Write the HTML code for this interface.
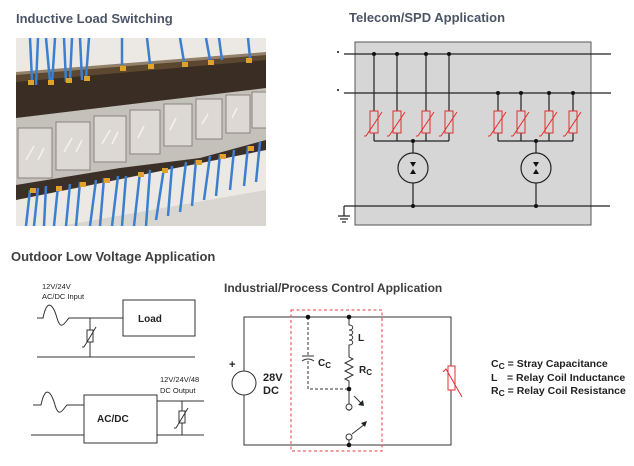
<!DOCTYPE html>
<html><head><meta charset="utf-8"><style>
html,body{margin:0;padding:0;background:#fff;}
svg{display:block;font-family:"Liberation Sans",Arial,sans-serif;}
</style></head><body>
<svg width="634" height="466" viewBox="0 0 634 466" xmlns="http://www.w3.org/2000/svg">
<!-- Titles -->
<text x="16" y="23" font-size="13" font-weight="bold" fill="#4b5566">Inductive Load Switching</text>
<text x="349" y="22" font-size="13" font-weight="bold" fill="#4b5566">Telecom/SPD Application</text>
<text x="11" y="261" font-size="13" font-weight="bold" fill="#3f3f3f">Outdoor Low Voltage Application</text>
<text x="224" y="292" font-size="12" font-weight="bold" fill="#3f3f3f">Industrial/Process Control Application</text>

<!-- Photo -->
<defs><clipPath id="ph"><rect x="16" y="38" width="250" height="188"/></clipPath></defs>
<g clip-path="url(#ph)">
<rect x="16" y="38" width="250" height="188" fill="#ece8e3"/>
<polygon points="16,75 266,55 266,92 16,122" fill="#3a2e24"/>
<polygon points="16,72 266,52 266,60 16,82" fill="#6b5436" opacity="0.7"/>
<polygon points="16,118 266,88 266,145 200,160 120,170 16,190" fill="#c4c0ba"/>
<g fill="#dcd9d4" stroke="#8a847c" stroke-width="1">
<rect x="18" y="128" width="34" height="50"/><rect x="56" y="122" width="34" height="48"/><rect x="94" y="116" width="32" height="46"/><rect x="130" y="110" width="30" height="44"/><rect x="164" y="104" width="28" height="42"/><rect x="196" y="99" width="26" height="40"/><rect x="226" y="95" width="24" height="38"/><rect x="252" y="92" width="20" height="36"/>
</g>
<g stroke="#f4f2ee" stroke-width="1.5" fill="none">
<path d="M26 160l8 -14 M38 160l6 -12 M64 152l8 -14 M76 152l6 -12 M102 144l8 -14 M112 144l6 -12 M138 138l6 -12 M170 130l6 -12 M202 124l6 -10 M232 118l5 -10"/>
</g>
<polygon points="16,185 120,168 200,158 266,140 266,150 16,200" fill="#3a3028"/>
<polygon points="60,226 266,190 266,226" fill="#d9d6d2"/>
<g stroke="#3b7fd0" stroke-width="2.5" fill="none">
<path d="M30 38 L32 80 M38 38 L36 85 M46 38 L50 82 M55 38 L52 84 M64 38 L66 82 M72 38 L70 80 M80 38 L82 80 M89 38 L86 78 M122 38 L122 65 M147 38 L150 64 M180 38 L184 62 M206 38 L210 60 M219 38 L222 60 M248 38 L250 58"/>
<path d="M26 226 L30 190 M34 226 L38 188 M44 226 L46 186 M54 226 L58 186 M66 226 L70 184 M76 226 L80 182 M90 226 L96 180 M100 226 L104 178 M112 226 L118 176 M122 226 L126 176 M134 226 L140 172 M146 226 L150 170 M156 220 L164 168 M168 216 L172 166 M180 212 L186 162 M192 206 L196 160 M204 200 L210 156 M216 196 L220 154 M230 190 L234 150 M244 186 L248 146 M256 182 L260 142"/>
</g>
<g fill="#e0a22a">
<rect x="28" y="80" width="6" height="5"/><rect x="48" y="80" width="6" height="5"/><rect x="66" y="78" width="6" height="5"/><rect x="84" y="76" width="6" height="5"/><rect x="120" y="66" width="6" height="5"/><rect x="148" y="64" width="6" height="5"/><rect x="182" y="62" width="6" height="5"/><rect x="208" y="60" width="6" height="5"/><rect x="246" y="58" width="6" height="5"/>
<rect x="30" y="188" width="6" height="5"/><rect x="56" y="186" width="6" height="5"/><rect x="80" y="182" width="6" height="5"/><rect x="104" y="178" width="6" height="5"/><rect x="138" y="172" width="6" height="5"/><rect x="162" y="168" width="6" height="5"/><rect x="196" y="160" width="6" height="5"/><rect x="220" y="154" width="6" height="5"/><rect x="248" y="146" width="6" height="5"/>
</g>
</g>

<!-- Telecom -->
<rect x="355" y="42" width="236" height="183" fill="#d6d6d6" stroke="#555" stroke-width="1"/>
<g stroke="#222" stroke-width="1.2" fill="none">
<line x1="344" y1="54" x2="611" y2="54"/>
<line x1="344" y1="93" x2="611" y2="93"/>
<line x1="344" y1="206" x2="610" y2="206"/>
<line x1="344" y1="206" x2="344" y2="216"/>
<line x1="338" y1="216" x2="350" y2="216"/><line x1="340" y1="219" x2="348" y2="219"/><line x1="342" y1="222" x2="346" y2="222"/>
<path d="M374 54V141 M397 54V141 M426 54V141 M449 54V141 M374 141H449 M413 141V153 M413 183V206"/>
<path d="M498 93V141 M521 93V141 M549 93V141 M573 93V141 M498 141H573 M536 141V153 M536 183V206"/>
<circle cx="413" cy="168" r="15" fill="#d6d6d6"/>
<circle cx="536" cy="168" r="15" fill="#d6d6d6"/>
</g>
<g fill="#111">
<circle cx="374" cy="54" r="2"/><circle cx="397" cy="54" r="2"/><circle cx="426" cy="54" r="2"/><circle cx="449" cy="54" r="2"/>
<circle cx="498" cy="93" r="2"/><circle cx="521" cy="93" r="2"/><circle cx="549" cy="93" r="2"/><circle cx="573" cy="93" r="2"/>
<circle cx="413" cy="141" r="2"/><circle cx="536" cy="141" r="2"/><circle cx="413" cy="206" r="2"/><circle cx="536" cy="206" r="2"/>
<polygon points="410,162 416,162 413,167"/><polygon points="410,174 416,174 413,169"/>
<polygon points="533,162 539,162 536,167"/><polygon points="533,174 539,174 536,169"/>
<circle cx="338" cy="52" r="1"/><circle cx="338" cy="90" r="1"/>
</g>
<g stroke="#e03030" stroke-width="1" fill="#d6d6d6">
<rect x="370" y="111" width="8" height="22"/><rect x="393" y="111" width="8" height="22"/><rect x="422" y="111" width="8" height="22"/><rect x="445" y="111" width="8" height="22"/>
<rect x="494" y="111" width="8" height="22"/><rect x="517" y="111" width="8" height="22"/><rect x="545" y="111" width="8" height="22"/><rect x="569" y="111" width="8" height="22"/>
</g>
<g stroke="#e03030" stroke-width="1" fill="none">
<path d="M366 136L382 112M366 136h-2 M389 136L405 112M389 136h-2 M418 136L434 112M418 136h-2 M441 136L457 112M441 136h-2"/>
<path d="M490 136L506 112M490 136h-2 M513 136L529 112M513 136h-2 M541 136L557 112M541 136h-2 M565 136L581 112M565 136h-2"/>
</g>

<!-- Outdoor -->
<text x="42" y="289" font-size="7.5" fill="#222">12V/24V</text>
<text x="42" y="299" font-size="7.5" fill="#222">AC/DC Input</text>
<g stroke="#333" stroke-width="1" fill="none">
<path d="M37 318h6 c4 -20 10 -14 14 0 s8 4 12 0 H123"/>
<rect x="123" y="300" width="72" height="36"/>
<line x1="90" y1="318" x2="90" y2="357"/>
<rect x="87" y="330" width="6" height="12" fill="#fff"/>
<path d="M84 347L96 327M84 347h-2"/>
<line x1="37" y1="357" x2="195" y2="357"/>
<path d="M33 405h8 c4 -20 10 -14 14 0 s8 4 12 0 H84"/>
<rect x="84" y="395" width="73" height="48"/>
<line x1="157" y1="401" x2="204" y2="401"/>
<line x1="31" y1="435" x2="84" y2="435"/>
<line x1="157" y1="435" x2="204" y2="435"/>
<line x1="182" y1="401" x2="182" y2="435"/>
<rect x="179" y="411" width="6" height="12" fill="#fff"/>
<path d="M176 428L188 408M176 428h-2"/>
</g>
<text x="138" y="322" font-size="10" font-weight="bold" fill="#222">Load</text>
<text x="97" y="422" font-size="10" font-weight="bold" fill="#222">AC/DC</text>
<text x="160" y="382" font-size="7.5" fill="#222">12V/24V/48</text>
<text x="160" y="393" font-size="7.5" fill="#222">DC Output</text>

<!-- Industrial -->
<g stroke="#333" stroke-width="1" fill="none">
<path d="M244 317H451V445H244Z"/>
<circle cx="244" cy="383" r="12" fill="#fff"/>
<path d="M349 317v8 c5 0 5 5 0 5 c5 0 5 5 0 5 c5 0 5 5 0 5 c5 0 5 5 0 5 v12 l4 2 -8 4 8 4 -8 4 8 4 -8 4 4 2 v8 V403"/>
<path d="M349 411 V389"/>
<path d="M349 440V445"/>
<line x1="352" y1="434" x2="365" y2="424"/>
</g>
<rect x="448" y="366" width="7" height="24" fill="#fff" stroke="#e03030" stroke-width="1"/>
<path d="M443 372l3 -3 16 28" stroke="#e03030" fill="none" stroke-width="1"/>
<circle cx="349" cy="407" r="3" fill="#fff" stroke="#333"/>
<circle cx="349" cy="437" r="3" fill="#fff" stroke="#333"/>
<path d="M354 396l8 8" stroke="#333" fill="none"/>
<polygon points="364,406 358,405 363,400" fill="#222"/>
<polygon points="367,421 361,423 365,427" fill="#222"/>
<g stroke="#333" stroke-width="1" stroke-dasharray="3,2" fill="none">
<path d="M308 317V355 M308 361V389H349"/>
</g>
<line x1="302" y1="356" x2="314" y2="356" stroke="#333"/>
<path d="M302 361 q6 -4 12 0" stroke="#333" fill="none"/>
<rect x="291" y="310" width="91" height="141" fill="none" stroke="#e04040" stroke-dasharray="3,2.5" stroke-width="1"/>
<g fill="#111">
<circle cx="308" cy="317" r="2.3"/><circle cx="349" cy="317" r="2.3"/><circle cx="349" cy="389" r="2.3"/><circle cx="349" cy="445" r="2.3"/>
</g>
<g font-weight="bold" fill="#222">
<text x="229" y="368" font-size="11">+</text>
<text x="263" y="381" font-size="11">28V</text>
<text x="263" y="394" font-size="11">DC</text>
<text x="318" y="366" font-size="10">C<tspan font-size="8" dy="2">C</tspan></text>
<text x="358" y="341" font-size="10">L</text>
<text x="359" y="373" font-size="10">R<tspan font-size="8" dy="2">C</tspan></text>
<g font-size="10.5">
<text x="491" y="367">C<tspan font-size="8.5" dy="2">C</tspan><tspan dy="-2"> = Stray Capacitance</tspan></text>
<text x="491" y="381">L</text><text x="507" y="381">= Relay Coil Inductance</text>
<text x="491" y="394">R<tspan font-size="8.5" dy="2">C</tspan><tspan dy="-2"> = Relay Coil Resistance</tspan></text>
</g>
</g>
</svg>
</body></html>
